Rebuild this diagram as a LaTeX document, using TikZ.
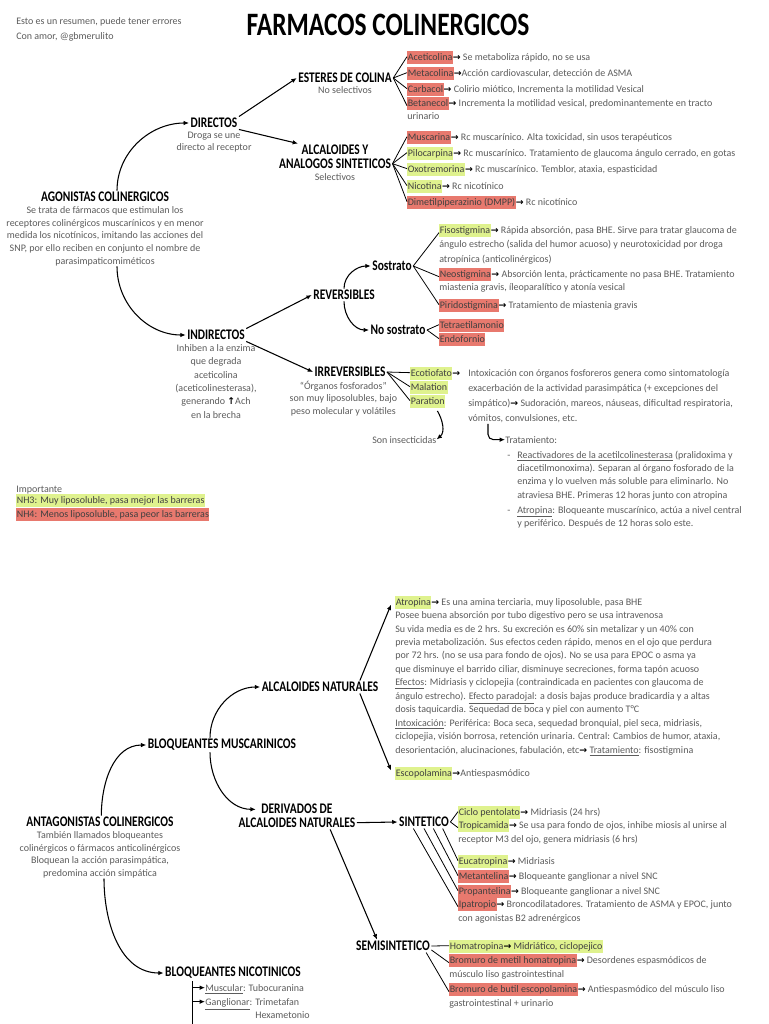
\documentclass[tikz,border=0pt]{standalone}
\usepackage{fontspec}
\setmainfont{Carlito}
\newfontfamily\headfont[FakeStretch=0.78]{Carlito}
\newfontfamily\symfont{DejaVu Sans}
\usetikzlibrary{positioning, arrows.meta, calc}

\definecolor{hlred}{RGB}{232,121,110}
\definecolor{hlgreen}{RGB}{223,242,142}
\definecolor{txtgray}{RGB}{92,92,92}

% highlighted drug names
\setlength{\fboxsep}{0.4pt}
\newcommand{\hlr}[1]{\colorbox{hlred}{\rule[-2.4pt]{0pt}{8.8pt}\textcolor{black!75}{#1}}}
\newcommand{\hlg}[1]{\colorbox{hlgreen}{\rule[-2.4pt]{0pt}{8.8pt}\textcolor{black!75}{#1}}}
\newcommand{\toarr}{{\symfont\bfseries\fontsize{7}{7}\selectfont\textcolor{black}{→}}}
\newcommand{\uparr}{{\symfont\bfseries\fontsize{7}{7}\selectfont\textcolor{black}{↑}}}
\newcommand{\topstrut}{\rule{0pt}{9.2pt}}

\begin{document}
\begin{tikzpicture}[
    x=0.75pt, y=0.75pt,
    >={Latex[length=4pt,width=3.4pt]},
    % Headings
    head/.style={font=\headfont\bfseries\fontsize{11}{10.5}\selectfont, align=center, inner sep=1pt},
    % Grey notes below the headings
    desc/.style={font=\fontsize{7.5}{9.6}\selectfont, text=txtgray, align=center, inner sep=0pt},
    % Lines of the lists (placed by the baseline of their first line)
    item/.style={font=\fontsize{7.5}{10}\selectfont, text=txtgray, align=left, inner sep=0pt,
      anchor=north west, yshift=9.2pt, execute at begin node={\topstrut}},
    lsep/.style={font=\fontsize{7.5}{#1}\selectfont},
    % Connectors
    link/.style={->, line width=0.8pt},
    branch/.style={line width=0.6pt}
  ]

  \path[use as bounding box, fill=white] (0,0) rectangle (768,-1024);

  % --- HEADER ---
  \node[item] (note1) at (16,-24) {Esto es un resumen, puede tener errores};
  \node[item] (note2) at (16,-39) {Con amor, @gbmerulito};
  \node[font=\headfont\bfseries\fontsize{24.5}{24.5}\selectfont] (title) at (388,-25) {FARMACOS COLINERGICOS};

  % --- AGONISTAS ---
  \node[head] (ago) at (105,-197) {AGONISTAS COLINERGICOS};
  \node[desc, below=2pt of ago] (agod) {Se trata de fármacos que estimulan los\\receptores colinérgicos muscarínicos y en menor\\medida los nicotínicos, imitando las acciones del\\SNP, por ello reciben en conjunto el nombre de\\parasimpaticomiméticos};

  \node[head] (dir) at (214,-123) {DIRECTOS};
  \node[desc, font=\fontsize{7.5}{9}\selectfont, below=2pt of dir] (dird) {Droga se une\\directo al receptor};
  \draw[link] ([xshift=9pt]ago.north) to[out=90, in=180] (dir.west);

  % Esteres de colina
  \node[head] (est) at (345,-78) {ESTERES DE COLINA};
  \node[desc, below=1.5pt of est] (estd) {No selectivos};
  \draw[link] (dir.north east) -- (est.west);

  \node[item] (ace) at (407,-60) {\hlr{Aceticolina}\toarr{} Se metaboliza rápido, no se usa};
  \node[item] (met) at (407,-76) {\hlr{Metacolina}\toarr{}Acción cardiovascular, detección de ASMA};
  \node[item] (car) at (407,-92) {\hlr{Carbacol}\toarr{} Colirio miótico, Incrementa la motilidad Vesical};
  \node[item] (bet) at (407,-109) {\hlr{Betanecol}\toarr{} Incrementa la motilidad vesical, predominantemente en tracto\\urinario};
  \foreach \n in {ace, met, car, bet}
    \draw[branch] (est.east) -- ([yshift=-6.7pt]\n.north west);

  % Alcaloides y analogos
  \node[head] (alc) at (335,-157) {ALCALOIDES Y\\ANALOGOS SINTETICOS};
  \node[desc, below=2pt of alc] (alcd) {Selectivos};
  \draw[link] (dir.south east) -- (alc.160);

  \node[item] (mus) at (407,-140) {\hlr{Muscarina}\toarr{} Rc muscarínico. Alta toxicidad, sin usos terapéuticos};
  \node[item] (pil) at (407,-156) {\hlg{Pilocarpina}\toarr{} Rc muscarínico. Tratamiento de glaucoma ángulo cerrado, en gotas};
  \node[item] (oxo) at (407,-172) {\hlg{Oxotremorina}\toarr{} Rc muscarínico. Temblor, ataxia, espasticidad};
  \node[item] (nic) at (407,-189) {\hlg{Nicotina}\toarr{} Rc nicotínico};
  \node[item] (dmpp) at (407,-205) {\hlr{Dimetilpiperazinio (DMPP)}\toarr{} Rc nicotínico};
  \foreach \n in {mus, pil, oxo, nic, dmpp}
    \draw[branch] ([yshift=-5pt]alc.east) -- ([yshift=-6.7pt]\n.north west);

  % --- INDIRECTOS ---
  \node[head] (ind) at (216,-335) {INDIRECTOS};
  \node[desc, font=\fontsize{7.5}{10}\selectfont, below=2pt of ind] (indd) {Inhiben a la enzima\\que degrada\\aceticolina\\(aceticolinesterasa),\\generando \uparr Ach\\en la brecha};
  \draw[link] ([xshift=9pt]agod.south) to[out=-90, in=180] (ind.west);

  % Reversibles
  \node[head] (rev) at (344,-295) {REVERSIBLES};
  \draw[link] (ind.north east) -- (rev.west);
  \node[head] (sos) at (392,-266) {Sostrato};
  \node[head] (nos) at (398,-330) {No sostrato};
  \draw[link] (rev.north) to[out=90, in=180] (sos.west);
  \draw[link] (rev.south) to[out=-90, in=180] (nos.west);

  \node[item, lsep=10.9pt] (fis) at (439,-236) {\hlg{Fisostigmina}\toarr{} Rápida absorción, pasa BHE. Sirve para tratar glaucoma de\\ángulo estrecho (salida del humor acuoso) y neurotoxicidad por droga\\atropínica (anticolinérgicos)};
  \node[item, lsep=9.8pt] (neo) at (439,-280) {\hlr{Neostigmina}\toarr{} Absorción lenta, prácticamente no pasa BHE. Tratamiento\\miastenia gravis, íleoparalítico y atonía vesical};
  \node[item] (pir) at (439,-308) {\hlr{Piridostigmina}\toarr{} Tratamiento de miastenia gravis};
  \foreach \n in {fis, neo, pir}
    \draw[branch] (sos.east) -- ([yshift=-6.7pt]\n.north west);

  \node[item] (endo) at (439,-342) {\hlr{Endofornio}};
  \node[item] (tet) at (439,-328) {\hlr{Tetraetilamonio}};
  \foreach \n in {tet, endo}
    \draw[branch] (nos.east) -- ([yshift=-6.7pt]\n.north west);

  % Irreversibles
  \node[head] (irr) at (350,-372) {IRREVERSIBLES};
  \node[desc, below=1.5pt of irr, xshift=-5pt] (irrd) {“Órganos fosforados”\\son muy liposolubles, bajo\\peso molecular y volátiles};
  \draw[link] (ind.south east) -- (irr.west);

  \node[item] (par) at (410,-404) {\hlg{Paration}};
  \node[item] (mal) at (410,-390) {\hlg{Malation}};
  \node[item] (eco) at (410,-376) {\hlg{Ecotiofato}\toarr};
  \foreach \n in {eco, mal, par}
    \draw[branch] (irr.east) -- ([yshift=-6.7pt]\n.north west);

  \node[item, lsep=11.2pt] (intox) at (468,-376) {\topstrut Intoxicación con órganos fosforeros genera como sintomatología\\exacerbación de la actividad parasimpática (+ excepciones del\\simpático)\toarr{} Sudoración, mareos, náuseas, dificultad respiratoria,\\vómitos, convulsiones, etc.};

  \node[item] (ins) at (372,-443) {Son insecticidas};
  \draw[link] ([xshift=-6pt, yshift=-2pt]par.south east) to[out=-60, in=40] ([yshift=-6.5pt]ins.north east);

  % Tratamiento
  \node[item] (trat) at (505,-443) {Tratamiento:};
  \draw[link, rounded corners=4pt] ([xshift=15pt, yshift=-1pt]intox.south west) |- ([yshift=-6.7pt]trat.north west);

  \node[item] (dash1) at (507,-458) {-};
  \node[item] (react) at (517,-458) {\topstrut\underline{Reactivadores de la acetilcolinesterasa} (pralidoxima y\\diacetilmonoxima). Separan al órgano fosforado de la\\enzima y lo vuelven más soluble para eliminarlo. No\\atraviesa BHE. Primeras 12 horas junto con atropina};
  \node[item] (dash2) at (507,-513) {-};
  \node[item] (atrt) at (517,-513) {\topstrut\underline{Atropina}: Bloqueante muscarínico, actúa a nivel central\\y periférico. Después de 12 horas solo este.};

  % Importante
  \node[item] (imp) at (16,-492) {Importante};
  \node[item] (nh4) at (16,-517) {\hlr{NH4: Menos liposoluble, pasa peor las barreras}};
  \node[item] (nh3) at (16,-503) {\hlg{NH3: Muy liposoluble, pasa mejor las barreras}};

  % --- ANTAGONISTAS ---
  \node[head] (ant) at (100,-822) {ANTAGONISTAS COLINERGICOS};
  \node[desc, below=2pt of ant] (antd) {También llamados bloqueantes\\colinérgicos o fármacos anticolinérgicos\\Bloquean la acción parasimpática,\\predomina acción simpática};

  \node[head] (bmus) at (222,-745) {BLOQUEANTES MUSCARINICOS};
  \node[head] (bnic) at (233,-973) {BLOQUEANTES NICOTINICOS};
  \draw[link] ([xshift=1pt]ant.north) to[out=90, in=180] (bmus.west);
  \draw[link] ([xshift=3pt]antd.south) to[out=-90, in=180] (bnic.west);

  \node[head] (alcn) at (320,-687) {ALCALOIDES NATURALES};
  \node[head] (der) at (297,-816) {DERIVADOS DE\\ALCALOIDES NATURALES};
  \draw[link] ([xshift=-9pt]bmus.north) to[out=90, in=180] (alcn.west);
  \draw[link] ([xshift=-9pt]bmus.south) to[out=-90, in=180] ([xshift=14pt, yshift=5pt]der.west);

  % Alcaloides naturales
  \node[item, lsep=10.1pt] (atrop) at (395,-608) {\hlg{Atropina}\toarr{} Es una amina terciaria, muy liposoluble, pasa BHE\\
    Posee buena absorción por tubo digestivo pero se usa intravenosa\\
    Su vida media es de 2 hrs. Su excreción es 60\% sin metalizar y un 40\% con\\
    previa metabolización. Sus efectos ceden rápido, menos en el ojo que perdura\\
    por 72 hrs. (no se usa para fondo de ojos). No se usa para EPOC o asma ya\\
    que disminuye el barrido ciliar, disminuye secreciones, forma tapón acuoso\\
    \underline{Efectos}: Midriasis y ciclopejia (contraindicada en pacientes con glaucoma de\\
    ángulo estrecho). \underline{Efecto paradojal}: a dosis bajas produce bradicardia y a altas\\
    dosis taquicardia. Sequedad de boca y piel con aumento T°C\\
    \underline{Intoxicación}: Periférica: Boca seca, sequedad bronquial, piel seca, midriasis,\\
    ciclopejia, visión borrosa, retención urinaria. Central: Cambios de humor, ataxia,\\
    desorientación, alucinaciones, fabulación, etc\toarr{} \underline{Tratamiento}: fisostigmina};
  \node[item] (esco) at (395,-776) {\hlg{Escopolamina}\toarr{}Antiespasmódico};
  \draw[link] ([xshift=-15pt]alcn.north east) -- ([xshift=-3pt, yshift=-6.7pt]atrop.north west);
  \draw[link] ([xshift=-15pt]alcn.south east) -- ([xshift=-3pt, yshift=-5pt]esco.north west);

  % Sintetico
  \node[head] (sin) at (424,-822) {SINTETICO};
  \draw[link] ([yshift=-5pt]der.east) -- (sin.west);

  \node[item] (cic) at (458,-815) {\hlg{Ciclo pentolato}\toarr{} Midriasis (24 hrs)};
  \node[item, lsep=11pt] (tro) at (458,-831) {\hlg{Tropicamida}\toarr{} Se usa para fondo de ojos, inhibe miosis al unirse al\\receptor M3 del ojo, genera midriasis (6 hrs)};
  \node[item] (euc) at (458,-864) {\hlg{Eucatropina}\toarr{} Midriasis};
  \node[item] (mett) at (458,-879) {\hlr{Metantelina}\toarr{} Bloqueante ganglionar a nivel SNC};
  \node[item] (pro) at (458,-894) {\hlr{Propantelina}\toarr{} Bloqueante ganglionar a nivel SNC};
  \node[item, lsep=10.5pt] (ipa) at (458,-910) {\hlr{Ipatropio}\toarr{} Broncodilatadores. Tratamiento de ASMA y EPOC, junto\\con agonistas B2 adrenérgicos};
  \foreach \n in {cic, tro}
    \draw[branch] (sin.east) -- ([yshift=-6.7pt]\n.north west);
  \foreach \n/\dx in {euc/14pt, mett/7pt, pro/0pt, ipa/-8pt}
    \draw[branch] ([xshift=\dx]sin.south) -- ([yshift=-6.7pt]\n.north west);

  % Semisintetico
  \node[head] (semi) at (393,-946) {SEMISINTETICO};
  \draw[link] ([xshift=-20pt]der.south east) -- ([xshift=-12pt]semi.north);

  \node[item] (hom) at (449,-949) {\hlg{Homatropina\toarr{} Midriático, ciclopejico}};
  \node[item, lsep=10.5pt] (bme) at (449,-966) {\hlr{Bromuro de metil homatropina}\toarr{} Desordenes espasmódicos de\\músculo liso gastrointestinal};
  \node[item, lsep=10.5pt] (bbu) at (449,-995) {\hlr{Bromuro de butil escopolamina}\toarr{} Antiespasmódico del músculo liso\\gastrointestinal + urinario};
  \draw[branch] (semi.east) -- ([yshift=-6.7pt]hom.north west);
  \draw[branch] ([yshift=-3pt]semi.east) -- ([yshift=-6.7pt]bme.north west);
  \draw[branch] ([xshift=-4pt]semi.south east) -- ([yshift=-6.7pt]bbu.north west);

  % Bloqueantes nicotinicos
  \coordinate (nicx) at (192,-981);
  \coordinate (nicbot) at (192,-1024);
  \node[item] (musc) at (205,-991) {\underline{Muscular}: Tubocuranina};
  \node[item, lsep=10.2pt] (gang) at (205,-1005) {\topstrut\underline{Ganglionar}: Trimetafan\\\hphantom{\underline{Ganglionar}: }Hexametonio};
  \draw[branch] (nicx) -- (nicbot);
  \draw[link] ([yshift=-6.7pt]nicx |- musc.north west) -- ([yshift=-6.7pt]musc.north west);
  \draw[link] ([yshift=-6.7pt]nicx |- gang.north west) -- ([yshift=-6.7pt]gang.north west);

\end{tikzpicture}
\end{document}
